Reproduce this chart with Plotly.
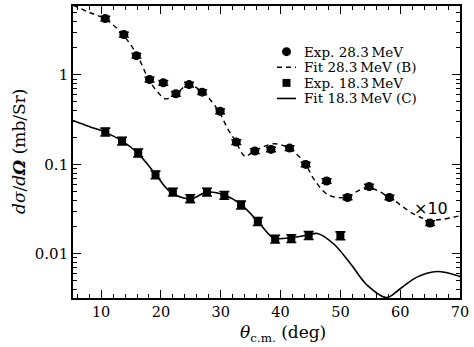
import numpy as np
import plotly.graph_objects as go

# Experimental data 28.3 MeV (x10)
exp28_theta = [10.7, 13.8, 15.9, 18.1, 20.4, 22.5, 24.7, 26.9, 29.9, 32.6, 35.7, 38.4, 41.5, 44.2, 47.7, 51.2, 54.8, 58.2, 65.0]
exp28_val = [4.26, 2.83, 1.64, 0.888, 0.815, 0.615, 0.78, 0.642, 0.392, 0.178, 0.141, 0.147, 0.152, 0.100, 0.0653, 0.0427, 0.0565, 0.0427, 0.0221]

# Fit 28.3 MeV (B)
fit28_theta = [5.3, 8.0, 10.7, 13.5, 16.0, 18.0, 19.4, 20.8, 22.4, 24.5, 26.9, 29.7, 31.1, 32.5, 34.1, 35.5, 38.9, 41.1, 43.0, 44.2, 45.6, 47.8, 50.6, 54.5, 58.1, 62.3, 65.1, 70.0]
fit28_val = [6.0, 5.0, 4.2, 2.9, 1.67, 0.88, 0.65, 0.54, 0.60, 0.77, 0.65, 0.39, 0.255, 0.18, 0.123, 0.14, 0.17, 0.155, 0.124, 0.10, 0.068, 0.0464, 0.0426, 0.055, 0.0432, 0.0278, 0.0239, 0.0267]

# Experimental data 18.3 MeV
exp18_theta = [10.7, 13.5, 16.2, 19.1, 22.0, 24.9, 27.7, 30.6, 33.4, 36.2, 39.1, 41.8, 44.7, 50.0]
exp18_val = [0.231, 0.183, 0.135, 0.0768, 0.0493, 0.0416, 0.0493, 0.0453, 0.0353, 0.0231, 0.0147, 0.0149, 0.0161, 0.016]
exp18_err_pct = [7, 7, 7, 7, 7, 7, 7, 7, 7, 8, 9, 10, 7, 13]

# Fit 18.3 MeV (C)
fit18_theta = [5.3, 8.0, 10.7, 13.5, 16.2, 19.1, 21.6, 24.9, 27.7, 30.6, 33.4, 36.2, 38.5, 39.5, 41.8, 44.7, 46.2, 48.9, 51.7, 54.5, 57.7, 60.0, 62.8, 66.2, 69.5, 70.0]
fit18_val = [0.31, 0.265, 0.228, 0.183, 0.132, 0.0774, 0.0492, 0.0412, 0.049, 0.0455, 0.0355, 0.023, 0.0155, 0.0148, 0.0152, 0.0163, 0.0169, 0.0129, 0.00774, 0.00445, 0.00325, 0.00408, 0.0055, 0.00636, 0.00574, 0.0056]

legend_labels = ["Exp. 28.3\u2009MeV", "Fit 28.3\u2009MeV (B)", "Exp. 18.3\u2009MeV", "Fit 18.3\u2009MeV (C)"]

FONT = "DejaVu Serif"
W, H = 474, 347
ML, MR, MT, MB = 73, 14, 4, 49
PW, PH = W - ML - MR, H - MT - MB


def px(xp):
    return (xp - ML) / PW


def py(yp):
    return 1 - (yp - MT) / PH


fig = go.Figure()
fig.add_trace(go.Scatter(
    x=fit28_theta, y=fit28_val, mode="lines", name=legend_labels[1], showlegend=False,
    line=dict(color="black", width=1.4, dash="5px,4px", shape="spline", smoothing=1.0),
))
fig.add_trace(go.Scatter(
    x=fit18_theta, y=fit18_val, mode="lines", name=legend_labels[3], showlegend=False,
    line=dict(color="black", width=1.6, shape="spline", smoothing=1.0),
))
fig.add_trace(go.Scatter(
    x=exp28_theta, y=exp28_val, mode="markers", name=legend_labels[0], showlegend=False,
    marker=dict(symbol="circle", size=9, color="black"),
    error_y=dict(type="percent", value=6, color="black", thickness=1.5, width=5),
))
fig.add_trace(go.Scatter(
    x=exp18_theta, y=exp18_val, mode="markers", name=legend_labels[2], showlegend=False,
    marker=dict(symbol="square", size=8, color="black"),
    error_y=dict(type="percent", array=exp18_err_pct, color="black", thickness=1.6, width=5),
))

minor_y = [k * 10.0 ** e for e in range(-3, 1) for k in range(2, 10)]

fig.update_layout(
    width=W, height=H,
    margin=dict(l=ML, r=MR, t=MT, b=MB),
    paper_bgcolor="white", plot_bgcolor="white",
    font=dict(family=FONT, color="black", size=15),
    showlegend=False,
    xaxis=dict(
        range=[5.3, 70], showgrid=False, zeroline=False,
        showline=True, linecolor="black", linewidth=1.6, mirror="ticks",
        ticks="inside", ticklen=8, tickwidth=1.3, tickcolor="black",
        tickvals=[10, 20, 30, 40, 50, 60, 70],
        tickfont=dict(family=FONT, size=14.5),
        minor=dict(tickvals=list(range(6, 70, 2)), ticks="inside", ticklen=4, tickwidth=1, tickcolor="black"),
    ),
    yaxis=dict(
        type="log", range=[-2.493, 0.77], showgrid=False, zeroline=False,
        showline=True, linecolor="black", linewidth=1.6, mirror="ticks",
        ticks="inside", ticklen=8, tickwidth=1.3, tickcolor="black",
        tickvals=[0.01, 0.1, 1], ticktext=["0.01", "0.1", "1"],
        tickfont=dict(family=FONT, size=15),
        minor=dict(tickvals=minor_y, ticks="inside", ticklen=4, tickwidth=1, tickcolor="black"),
    ),
)

# manual legend (compact rows like the reference)
rows = [50.0, 65.7, 81.4, 97.1]
sym_x0, sym_x1, sym_c = 277, 296, 286.5
text_x = 302.7
# circle marker
r = 4.5
fig.add_shape(type="circle", xref="paper", yref="paper",
              x0=px(sym_c - r), x1=px(sym_c + r), y0=py(rows[0] + r), y1=py(rows[0] - r),
              fillcolor="black", line=dict(color="black", width=0))
# dashed line
fig.add_shape(type="line", xref="paper", yref="paper",
              x0=px(sym_x0), x1=px(sym_x1), y0=py(rows[1]), y1=py(rows[1]),
              line=dict(color="black", width=1.4, dash="5px,4px"))
# square marker
s = 4
fig.add_shape(type="rect", xref="paper", yref="paper",
              x0=px(sym_c - s), x1=px(sym_c + s), y0=py(rows[2] + s), y1=py(rows[2] - s),
              fillcolor="black", line=dict(color="black", width=0))
# solid line
fig.add_shape(type="line", xref="paper", yref="paper",
              x0=px(sym_x0), x1=px(sym_x1), y0=py(rows[3]), y1=py(rows[3]),
              line=dict(color="black", width=1.6))
for lab, ry in zip(legend_labels, rows):
    fig.add_annotation(x=px(text_x), y=py(ry), xref="paper", yref="paper", text=lab,
                       showarrow=False, xanchor="left", yanchor="middle",
                       borderpad=0, valign="middle",
                       font=dict(family=FONT, size=13.5, color="black"))

fig.add_annotation(
    x=65.2, y=np.log10(0.032), xref="x", yref="y", text="\u00d710",
    showarrow=False, font=dict(family="DejaVu Sans", size=16, color="black"),
)
fig.add_annotation(
    x=px(283), y=py(321.5), xref="paper", yref="paper",
    text="<i>θ</i><sub>c.m.</sub> (deg)", showarrow=False, borderpad=0,
    font=dict(family=FONT, size=17, color="black"), xanchor="center", yanchor="top",
)
fig.add_annotation(
    x=px(19), y=0.5, xref="paper", yref="paper",
    text="<i>dσ</i>/<i>d</i><b><i>Ω</i></b> (mb/Sr)", showarrow=False, textangle=-90,
    font=dict(family=FONT, size=17, color="black"), xanchor="center", yanchor="middle",
)

fig.write_html("out.html")
